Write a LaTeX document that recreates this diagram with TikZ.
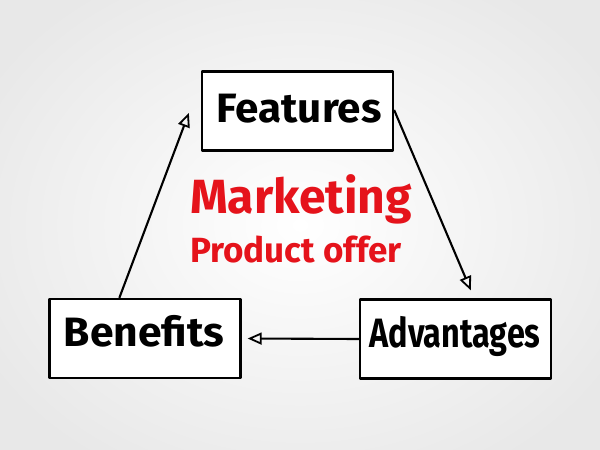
\documentclass[tikz,border=0pt]{standalone}
\usepackage{fontspec}
\setmainfont{Fira Sans}
\usetikzlibrary{arrows.meta,calc}
\definecolor{mkred}{HTML}{E5131B}
\tikzset{
  box/.style={draw=black, line width=2.3pt, line join=round, fill=white, minimum width=191pt, minimum height=79pt, inner sep=0pt},
  lbl/.style={font=\fontsize{41}{44}\selectfont\bfseries, inner sep=0pt, anchor=base},
  conn/.style={draw=black, line width=2.1pt, -{Triangle[open, length=14pt, width=12pt, line width=1.8pt]}}
}
\begin{document}
\begin{tikzpicture}[x=1pt,y=-1pt]
\useasboundingbox (0,0) rectangle (600,450);
\shade[inner color=white, outer color=black!9] (-60,-60) rectangle (660,510);
\node[box] (feat) at (297.5,111) {};
\node[box] (ben) at (145,338.5) {};
\node[box] (adv) at (455.5,339) {};
\node[lbl] (tf) at (299,122) {\scalebox{1.03}[1]{Features}};
\node[lbl] (tb) at (144,346) {\scalebox{1.04}[1]{Benefits}};
\node[lbl] (ta) at (455,347) {\scalebox{0.79}[1]{Advantages}};
\node[text=mkred, font=\fontsize{48}{50}\selectfont\bfseries, anchor=base] (mk) at (301,213) {Marketing};
\node[text=mkred, font=\fontsize{35}{38}\selectfont\bfseries, anchor=base] (po) at (296,262) {Product offer};
\coordinate (a1s) at ($(ben.north west)+(71,0)$);
\coordinate (a1e) at ($(feat.west)+(-12,2)$);
\coordinate (a2s) at ($(feat.east)+(0,-1)$);
\coordinate (a2e) at ($(adv.north west)+(112,-8)$);
\coordinate (a3e) at ($(ben.east)+(6,0)$);
\draw[conn] (a1s) -- (a1e);
\draw[conn] (a2s) -- (a2e);
\draw[conn] (adv.west) -- (a3e);
\end{tikzpicture}
\end{document}
